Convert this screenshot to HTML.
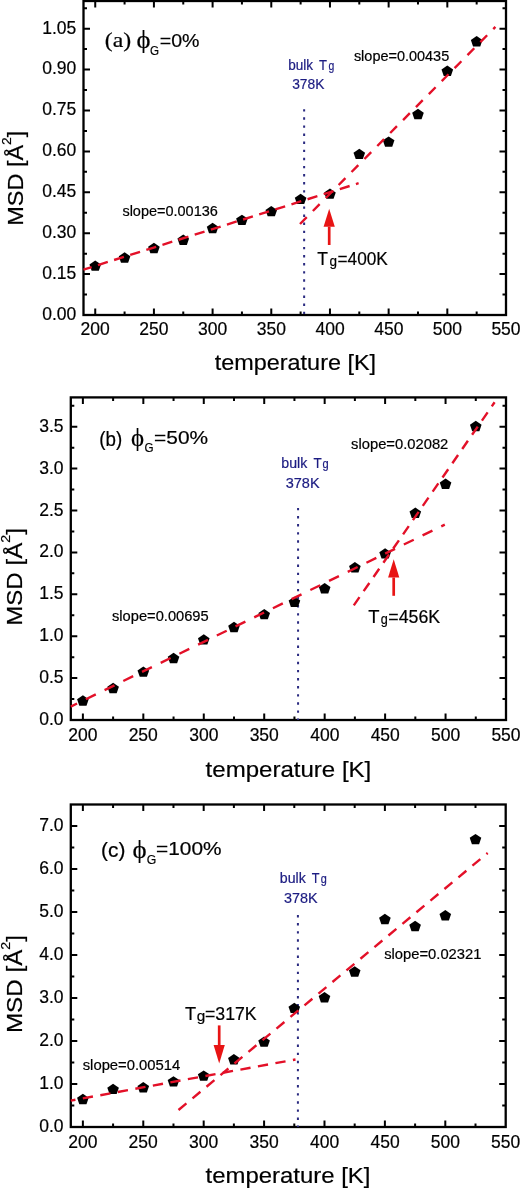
<!DOCTYPE html>
<html><head><meta charset="utf-8"><title>MSD vs temperature</title>
<style>
html,body{margin:0;padding:0;background:#fff;}
svg{display:block;}
text{font-kerning:none;}
</style></head>
<body>
<svg width="520" height="1189" viewBox="0 0 520 1189">
<rect width="520" height="1189" fill="#fff"/>
<path d="M95.24 315V308.5M95.24 1V7.5M153.92 315V308.5M153.92 1V7.5M212.6 315V308.5M212.6 1V7.5M271.28 315V308.5M271.28 1V7.5M329.96 315V308.5M329.96 1V7.5M388.64 315V308.5M388.64 1V7.5M447.32 315V308.5M447.32 1V7.5M124.58 315V311.5M124.58 1V4.5M183.26 315V311.5M183.26 1V4.5M241.94 315V311.5M241.94 1V4.5M300.62 315V311.5M300.62 1V4.5M359.3 315V311.5M359.3 1V4.5M417.98 315V311.5M417.98 1V4.5M476.66 315V311.5M476.66 1V4.5M83.5 274.1H90M506 274.1H499.5M83.5 233.19H90M506 233.19H499.5M83.5 192.29H90M506 192.29H499.5M83.5 151.38H90M506 151.38H499.5M83.5 110.48H90M506 110.48H499.5M83.5 69.57H90M506 69.57H499.5M83.5 28.67H90M506 28.67H499.5M83.5 294.55H87M506 294.55H502.5M83.5 253.64H87M506 253.64H502.5M83.5 212.74H87M506 212.74H502.5M83.5 171.83H87M506 171.83H502.5M83.5 130.93H87M506 130.93H502.5M83.5 90.02H87M506 90.02H502.5M83.5 49.12H87M506 49.12H502.5M83.5 8.21H87M506 8.21H502.5" stroke="#000" stroke-width="2" fill="none"/>
<rect x="83.5" y="1" width="422.5" height="314" fill="none" stroke="#000" stroke-width="2.3"/>
<text x="80.54" y="335.3" font-family="'Liberation Sans', Arial, sans-serif" font-size="17.5" fill="#000" stroke="#000" stroke-width="0.2" textLength="29.2" lengthAdjust="spacingAndGlyphs">200</text>
<text x="139.22" y="335.3" font-family="'Liberation Sans', Arial, sans-serif" font-size="17.5" fill="#000" stroke="#000" stroke-width="0.2" textLength="29.2" lengthAdjust="spacingAndGlyphs">250</text>
<text x="198.01" y="335.3" font-family="'Liberation Sans', Arial, sans-serif" font-size="17.5" fill="#000" stroke="#000" stroke-width="0.2" textLength="29.2" lengthAdjust="spacingAndGlyphs">300</text>
<text x="256.69" y="335.3" font-family="'Liberation Sans', Arial, sans-serif" font-size="17.5" fill="#000" stroke="#000" stroke-width="0.2" textLength="29.2" lengthAdjust="spacingAndGlyphs">350</text>
<text x="315.5" y="335.3" font-family="'Liberation Sans', Arial, sans-serif" font-size="17.5" fill="#000" stroke="#000" stroke-width="0.2" textLength="29.2" lengthAdjust="spacingAndGlyphs">400</text>
<text x="374.18" y="335.3" font-family="'Liberation Sans', Arial, sans-serif" font-size="17.5" fill="#000" stroke="#000" stroke-width="0.2" textLength="29.2" lengthAdjust="spacingAndGlyphs">450</text>
<text x="432.71" y="335.3" font-family="'Liberation Sans', Arial, sans-serif" font-size="17.5" fill="#000" stroke="#000" stroke-width="0.2" textLength="29.2" lengthAdjust="spacingAndGlyphs">500</text>
<text x="491.39" y="335.3" font-family="'Liberation Sans', Arial, sans-serif" font-size="17.5" fill="#000" stroke="#000" stroke-width="0.2" textLength="29.2" lengthAdjust="spacingAndGlyphs">550</text>
<text x="42.22" y="319.9" font-family="'Liberation Sans', Arial, sans-serif" font-size="17.5" fill="#000" stroke="#000" stroke-width="0.2" textLength="34.06" lengthAdjust="spacingAndGlyphs">0.00</text>
<text x="42.27" y="279" font-family="'Liberation Sans', Arial, sans-serif" font-size="17.5" fill="#000" stroke="#000" stroke-width="0.2" textLength="34.06" lengthAdjust="spacingAndGlyphs">0.15</text>
<text x="42.22" y="238.09" font-family="'Liberation Sans', Arial, sans-serif" font-size="17.5" fill="#000" stroke="#000" stroke-width="0.2" textLength="34.06" lengthAdjust="spacingAndGlyphs">0.30</text>
<text x="42.27" y="197.19" font-family="'Liberation Sans', Arial, sans-serif" font-size="17.5" fill="#000" stroke="#000" stroke-width="0.2" textLength="34.06" lengthAdjust="spacingAndGlyphs">0.45</text>
<text x="42.22" y="156.28" font-family="'Liberation Sans', Arial, sans-serif" font-size="17.5" fill="#000" stroke="#000" stroke-width="0.2" textLength="34.06" lengthAdjust="spacingAndGlyphs">0.60</text>
<text x="42.27" y="115.38" font-family="'Liberation Sans', Arial, sans-serif" font-size="17.5" fill="#000" stroke="#000" stroke-width="0.2" textLength="34.06" lengthAdjust="spacingAndGlyphs">0.75</text>
<text x="42.22" y="74.47" font-family="'Liberation Sans', Arial, sans-serif" font-size="17.5" fill="#000" stroke="#000" stroke-width="0.2" textLength="34.06" lengthAdjust="spacingAndGlyphs">0.90</text>
<text x="42.27" y="33.57" font-family="'Liberation Sans', Arial, sans-serif" font-size="17.5" fill="#000" stroke="#000" stroke-width="0.2" textLength="34.06" lengthAdjust="spacingAndGlyphs">1.05</text>
<line x1="304.14" y1="109.2" x2="304.14" y2="315" stroke="#2a2a80" stroke-width="2.0" stroke-dasharray="2.4 5.7"/>
<g fill="#000"><polygon points="95.24,260.46 101.04,264.44 98.82,270.87 91.65,270.87 89.43,264.44"/><polygon points="124.58,252.28 130.38,256.26 128.16,262.68 120.99,262.68 118.77,256.26"/><polygon points="153.92,242.74 159.72,246.71 157.5,253.14 150.33,253.14 148.12,246.71"/><polygon points="183.26,234.56 189.06,238.53 186.84,244.96 179.67,244.96 177.46,238.53"/><polygon points="212.6,222.83 218.4,226.8 216.18,233.23 209.01,233.23 206.8,226.8"/><polygon points="241.94,214.65 247.74,218.62 245.52,225.05 238.35,225.05 236.14,218.62"/><polygon points="271.28,205.92 277.08,209.9 274.86,216.33 267.69,216.33 265.48,209.9"/><polygon points="300.62,193.65 306.42,197.63 304.2,204.05 297.03,204.05 294.82,197.63"/><polygon points="329.96,188.47 335.76,192.44 333.54,198.87 326.37,198.87 324.16,192.44"/><polygon points="359.3,148.66 365.1,152.63 362.88,159.06 355.71,159.06 353.5,152.63"/><polygon points="388.64,136.39 394.44,140.36 392.22,146.79 385.05,146.79 382.84,140.36"/><polygon points="417.98,108.84 423.78,112.82 421.56,119.24 414.39,119.24 412.18,112.82"/><polygon points="447.32,65.48 453.12,69.46 450.9,75.89 443.73,75.89 441.52,69.46"/><polygon points="476.66,36.03 482.46,40.01 480.25,46.43 473.07,46.43 470.86,40.01"/></g>
<line x1="83.5" y1="269.6" x2="358.6" y2="183.2" stroke="#e31028" stroke-width="2.4" stroke-dasharray="10.3 6.6" stroke-dashoffset="1.75"/>
<line x1="300" y1="224" x2="495.4" y2="26.9" stroke="#e31028" stroke-width="2.4" stroke-dasharray="9.6 8.7" stroke-dashoffset="0"/>
<line x1="329.2" y1="226.7" x2="329.2" y2="245" stroke="#e81414" stroke-width="2.7"/>
<polygon points="329.2,208.8 323.6,226.7 334.8,226.7" fill="#e81414"/>
<text x="288.23" y="69.7" font-family="'Liberation Sans', Arial, sans-serif" font-size="14" fill="#1c1c82" stroke="#1c1c82" stroke-width="0.2" textLength="24.85" lengthAdjust="spacingAndGlyphs">bulk</text>
<text x="319.01" y="69.7" font-family="'Liberation Sans', Arial, sans-serif" font-size="14" fill="#1c1c82" stroke="#1c1c82" stroke-width="0.2" textLength="7.99" lengthAdjust="spacingAndGlyphs">T</text>
<text x="328.46" y="69.6" font-family="'Liberation Sans', Arial, sans-serif" font-size="12" fill="#1c1c82" stroke="#1c1c82" stroke-width="0.2" textLength="5.81" lengthAdjust="spacingAndGlyphs">g</text>
<text x="292.18" y="89.2" font-family="'Liberation Sans', Arial, sans-serif" font-size="14" fill="#1c1c82" stroke="#1c1c82" stroke-width="0.2" textLength="32.18" lengthAdjust="spacingAndGlyphs">378K</text>
<text x="122.4" y="215.9" font-family="'Liberation Sans', Arial, sans-serif" font-size="14" fill="#000" stroke="#000" stroke-width="0.2" textLength="95.44" lengthAdjust="spacingAndGlyphs">slope=0.00136</text>
<text x="353.9" y="61.2" font-family="'Liberation Sans', Arial, sans-serif" font-size="14" fill="#000" stroke="#000" stroke-width="0.2" textLength="95.31" lengthAdjust="spacingAndGlyphs">slope=0.00435</text>
<text x="317.31" y="265" font-family="'Liberation Sans', Arial, sans-serif" font-size="18" fill="#000" stroke="#000" stroke-width="0.2" textLength="10.7" lengthAdjust="spacingAndGlyphs">T</text>
<text x="329.43" y="265.7" font-family="'Liberation Sans', Arial, sans-serif" font-size="15" fill="#000" stroke="#000" stroke-width="0.2" textLength="7.54" lengthAdjust="spacingAndGlyphs">g</text>
<text x="337.56" y="265" font-family="'Liberation Sans', Arial, sans-serif" font-size="18" fill="#000" stroke="#000" stroke-width="0.2" textLength="50.23" lengthAdjust="spacingAndGlyphs">=400K</text>
<text x="104.86" y="46.7" font-family="'Liberation Serif', 'Times New Roman', serif" font-size="21" fill="#000" stroke="#000" stroke-width="0.2" textLength="26.39" lengthAdjust="spacingAndGlyphs">(a)</text>
<text x="136.4" y="47.5" font-family="'Liberation Serif', 'Times New Roman', serif" font-size="26" fill="#000" stroke="#000" stroke-width="0.2" textLength="14.02" lengthAdjust="spacingAndGlyphs">ϕ</text>
<text x="150.01" y="54.5" font-family="'Liberation Sans', Arial, sans-serif" font-size="12" fill="#000" stroke="#000" stroke-width="0.2" textLength="9.06" lengthAdjust="spacingAndGlyphs">G</text>
<text x="159.74" y="46.6" font-family="'Liberation Sans', Arial, sans-serif" font-size="19" fill="#000" stroke="#000" stroke-width="0.2" textLength="39.75" lengthAdjust="spacingAndGlyphs">=0%</text>
<text x="214.75" y="369.8" font-family="'Liberation Sans', Arial, sans-serif" font-size="22" fill="#000" stroke="#000" stroke-width="0.2" textLength="161.32" lengthAdjust="spacingAndGlyphs">temperature [K]</text>
<text transform="translate(23 223.9) rotate(-90)" x="0" y="0" font-family="'Liberation Sans', Arial, sans-serif" font-size="22" fill="#000" stroke="#000" stroke-width="0.2"><tspan x="-1.93" textLength="80.95" lengthAdjust="spacingAndGlyphs">MSD [&#197;</tspan><tspan font-size="13" dy="-12" textLength="7.72" lengthAdjust="spacingAndGlyphs">2</tspan><tspan dy="12" textLength="6.53" lengthAdjust="spacingAndGlyphs">]</tspan></text>
<path d="M82.89 720V713.5M82.89 397.4V403.9M143.33 720V713.5M143.33 397.4V403.9M203.78 720V713.5M203.78 397.4V403.9M264.22 720V713.5M264.22 397.4V403.9M324.67 720V713.5M324.67 397.4V403.9M385.11 720V713.5M385.11 397.4V403.9M445.56 720V713.5M445.56 397.4V403.9M113.11 720V716.5M113.11 397.4V400.9M173.56 720V716.5M173.56 397.4V400.9M234 720V716.5M234 397.4V400.9M294.44 720V716.5M294.44 397.4V400.9M354.89 720V716.5M354.89 397.4V400.9M415.33 720V716.5M415.33 397.4V400.9M475.78 720V716.5M475.78 397.4V400.9M70.8 678.1H77.3M506 678.1H499.5M70.8 636.2H77.3M506 636.2H499.5M70.8 594.3H77.3M506 594.3H499.5M70.8 552.4H77.3M506 552.4H499.5M70.8 510.5H77.3M506 510.5H499.5M70.8 468.6H77.3M506 468.6H499.5M70.8 426.7H77.3M506 426.7H499.5M70.8 699.05H74.3M506 699.05H502.5M70.8 657.15H74.3M506 657.15H502.5M70.8 615.25H74.3M506 615.25H502.5M70.8 573.35H74.3M506 573.35H502.5M70.8 531.45H74.3M506 531.45H502.5M70.8 489.55H74.3M506 489.55H502.5M70.8 447.65H74.3M506 447.65H502.5M70.8 405.75H74.3M506 405.75H502.5" stroke="#000" stroke-width="2" fill="none"/>
<rect x="70.8" y="397.4" width="435.2" height="322.6" fill="none" stroke="#000" stroke-width="2.3"/>
<text x="68.19" y="740.9" font-family="'Liberation Sans', Arial, sans-serif" font-size="17.5" fill="#000" stroke="#000" stroke-width="0.2" textLength="29.2" lengthAdjust="spacingAndGlyphs">200</text>
<text x="128.64" y="740.9" font-family="'Liberation Sans', Arial, sans-serif" font-size="17.5" fill="#000" stroke="#000" stroke-width="0.2" textLength="29.2" lengthAdjust="spacingAndGlyphs">250</text>
<text x="189.19" y="740.9" font-family="'Liberation Sans', Arial, sans-serif" font-size="17.5" fill="#000" stroke="#000" stroke-width="0.2" textLength="29.2" lengthAdjust="spacingAndGlyphs">300</text>
<text x="249.63" y="740.9" font-family="'Liberation Sans', Arial, sans-serif" font-size="17.5" fill="#000" stroke="#000" stroke-width="0.2" textLength="29.2" lengthAdjust="spacingAndGlyphs">350</text>
<text x="310.21" y="740.9" font-family="'Liberation Sans', Arial, sans-serif" font-size="17.5" fill="#000" stroke="#000" stroke-width="0.2" textLength="29.2" lengthAdjust="spacingAndGlyphs">400</text>
<text x="370.65" y="740.9" font-family="'Liberation Sans', Arial, sans-serif" font-size="17.5" fill="#000" stroke="#000" stroke-width="0.2" textLength="29.2" lengthAdjust="spacingAndGlyphs">450</text>
<text x="430.95" y="740.9" font-family="'Liberation Sans', Arial, sans-serif" font-size="17.5" fill="#000" stroke="#000" stroke-width="0.2" textLength="29.2" lengthAdjust="spacingAndGlyphs">500</text>
<text x="491.39" y="740.9" font-family="'Liberation Sans', Arial, sans-serif" font-size="17.5" fill="#000" stroke="#000" stroke-width="0.2" textLength="29.2" lengthAdjust="spacingAndGlyphs">550</text>
<text x="39.16" y="725" font-family="'Liberation Sans', Arial, sans-serif" font-size="17.5" fill="#000" stroke="#000" stroke-width="0.2" textLength="24.33" lengthAdjust="spacingAndGlyphs">0.0</text>
<text x="39.21" y="683.1" font-family="'Liberation Sans', Arial, sans-serif" font-size="17.5" fill="#000" stroke="#000" stroke-width="0.2" textLength="24.33" lengthAdjust="spacingAndGlyphs">0.5</text>
<text x="39.16" y="641.2" font-family="'Liberation Sans', Arial, sans-serif" font-size="17.5" fill="#000" stroke="#000" stroke-width="0.2" textLength="24.33" lengthAdjust="spacingAndGlyphs">1.0</text>
<text x="39.21" y="599.3" font-family="'Liberation Sans', Arial, sans-serif" font-size="17.5" fill="#000" stroke="#000" stroke-width="0.2" textLength="24.33" lengthAdjust="spacingAndGlyphs">1.5</text>
<text x="39.16" y="557.4" font-family="'Liberation Sans', Arial, sans-serif" font-size="17.5" fill="#000" stroke="#000" stroke-width="0.2" textLength="24.33" lengthAdjust="spacingAndGlyphs">2.0</text>
<text x="39.21" y="515.5" font-family="'Liberation Sans', Arial, sans-serif" font-size="17.5" fill="#000" stroke="#000" stroke-width="0.2" textLength="24.33" lengthAdjust="spacingAndGlyphs">2.5</text>
<text x="39.16" y="473.6" font-family="'Liberation Sans', Arial, sans-serif" font-size="17.5" fill="#000" stroke="#000" stroke-width="0.2" textLength="24.33" lengthAdjust="spacingAndGlyphs">3.0</text>
<text x="39.21" y="431.7" font-family="'Liberation Sans', Arial, sans-serif" font-size="17.5" fill="#000" stroke="#000" stroke-width="0.2" textLength="24.33" lengthAdjust="spacingAndGlyphs">3.5</text>
<line x1="298.07" y1="507.9" x2="298.07" y2="720" stroke="#2a2a80" stroke-width="2.0" stroke-dasharray="2.4 5.7"/>
<g fill="#000"><polygon points="82.89,695.28 88.69,699.25 86.47,705.68 79.3,705.68 77.09,699.25"/><polygon points="113.11,682.87 118.91,686.85 116.7,693.28 109.53,693.28 107.31,686.85"/><polygon points="143.33,666.45 149.13,670.42 146.92,676.85 139.75,676.85 137.53,670.42"/><polygon points="173.56,652.79 179.36,656.76 177.14,663.19 169.97,663.19 167.75,656.76"/><polygon points="203.78,634.19 209.58,638.16 207.36,644.59 200.19,644.59 197.98,638.16"/><polygon points="234,621.78 239.8,625.76 237.59,632.19 230.41,632.19 228.2,625.76"/><polygon points="264.22,608.96 270.02,612.94 267.81,619.36 260.64,619.36 258.42,612.94"/><polygon points="294.44,596.64 300.25,600.62 298.03,607.05 290.86,607.05 288.64,600.62"/><polygon points="324.67,582.98 330.47,586.96 328.25,593.39 321.08,593.39 318.87,586.96"/><polygon points="354.89,562.03 360.69,566.01 358.47,572.44 351.3,572.44 349.09,566.01"/><polygon points="385.11,548.21 390.91,552.18 388.7,558.61 381.53,558.61 379.31,552.18"/><polygon points="415.33,507.56 421.13,511.54 418.92,517.97 411.75,517.97 409.53,511.54"/><polygon points="445.56,478.57 451.36,482.54 449.14,488.97 441.97,488.97 439.75,482.54"/><polygon points="475.78,420.83 481.58,424.8 479.36,431.23 472.19,431.23 469.98,424.8"/></g>
<line x1="70.8" y1="706.55" x2="444.8" y2="524.6" stroke="#e31028" stroke-width="2.4" stroke-dasharray="11 9.8" stroke-dashoffset="4.03"/>
<line x1="353.8" y1="605.4" x2="494.6" y2="402.3" stroke="#e31028" stroke-width="2.4" stroke-dasharray="10 7.3" stroke-dashoffset="0"/>
<line x1="393.7" y1="577.5" x2="393.7" y2="595.8" stroke="#e81414" stroke-width="2.7"/>
<polygon points="393.7,559.2 388.1,577.5 399.3,577.5" fill="#e81414"/>
<text x="281.29" y="468.2" font-family="'Liberation Sans', Arial, sans-serif" font-size="14" fill="#1c1c82" stroke="#1c1c82" stroke-width="0.2" textLength="25.99" lengthAdjust="spacingAndGlyphs">bulk</text>
<text x="313.4" y="468.2" font-family="'Liberation Sans', Arial, sans-serif" font-size="14" fill="#1c1c82" stroke="#1c1c82" stroke-width="0.2" textLength="8.21" lengthAdjust="spacingAndGlyphs">T</text>
<text x="322.43" y="468.3" font-family="'Liberation Sans', Arial, sans-serif" font-size="12" fill="#1c1c82" stroke="#1c1c82" stroke-width="0.2" textLength="6.18" lengthAdjust="spacingAndGlyphs">g</text>
<text x="285.75" y="488.4" font-family="'Liberation Sans', Arial, sans-serif" font-size="14" fill="#1c1c82" stroke="#1c1c82" stroke-width="0.2" textLength="33.81" lengthAdjust="spacingAndGlyphs">378K</text>
<text x="111.99" y="620.8" font-family="'Liberation Sans', Arial, sans-serif" font-size="14" fill="#000" stroke="#000" stroke-width="0.2" textLength="96.72" lengthAdjust="spacingAndGlyphs">slope=0.00695</text>
<text x="351.09" y="448.5" font-family="'Liberation Sans', Arial, sans-serif" font-size="14" fill="#000" stroke="#000" stroke-width="0.2" textLength="97.25" lengthAdjust="spacingAndGlyphs">slope=0.02082</text>
<text x="368.39" y="623.1" font-family="'Liberation Sans', Arial, sans-serif" font-size="18" fill="#000" stroke="#000" stroke-width="0.2" textLength="11.24" lengthAdjust="spacingAndGlyphs">T</text>
<text x="380.67" y="624.2" font-family="'Liberation Sans', Arial, sans-serif" font-size="15" fill="#000" stroke="#000" stroke-width="0.2" textLength="7.05" lengthAdjust="spacingAndGlyphs">g</text>
<text x="388.33" y="623.1" font-family="'Liberation Sans', Arial, sans-serif" font-size="18" fill="#000" stroke="#000" stroke-width="0.2" textLength="51.87" lengthAdjust="spacingAndGlyphs">=456K</text>
<text x="99.34" y="445.6" font-family="'Liberation Sans', Arial, sans-serif" font-size="20" fill="#000" stroke="#000" stroke-width="0.2" textLength="22.93" lengthAdjust="spacingAndGlyphs">(b)</text>
<text x="130.96" y="445.5" font-family="'Liberation Serif', 'Times New Roman', serif" font-size="26" fill="#000" stroke="#000" stroke-width="0.2" textLength="13.1" lengthAdjust="spacingAndGlyphs">ϕ</text>
<text x="144.51" y="452" font-family="'Liberation Sans', Arial, sans-serif" font-size="12" fill="#000" stroke="#000" stroke-width="0.2" textLength="9.06" lengthAdjust="spacingAndGlyphs">G</text>
<text x="154.13" y="444.3" font-family="'Liberation Sans', Arial, sans-serif" font-size="19" fill="#000" stroke="#000" stroke-width="0.2" textLength="53.96" lengthAdjust="spacingAndGlyphs">=50%</text>
<text x="205.64" y="777" font-family="'Liberation Sans', Arial, sans-serif" font-size="22" fill="#000" stroke="#000" stroke-width="0.2" textLength="165.68" lengthAdjust="spacingAndGlyphs">temperature [K]</text>
<text transform="translate(21.8 623.9) rotate(-90)" x="0" y="0" font-family="'Liberation Sans', Arial, sans-serif" font-size="22" fill="#000" stroke="#000" stroke-width="0.2"><tspan x="-1.98" textLength="83.16" lengthAdjust="spacingAndGlyphs">MSD [&#197;</tspan><tspan font-size="13" dy="-12" textLength="7.93" lengthAdjust="spacingAndGlyphs">2</tspan><tspan dy="12" textLength="6.71" lengthAdjust="spacingAndGlyphs">]</tspan></text>
<path d="M82.88 1127V1120.5M82.88 804.5V811M143.28 1127V1120.5M143.28 804.5V811M203.69 1127V1120.5M203.69 804.5V811M264.09 1127V1120.5M264.09 804.5V811M324.49 1127V1120.5M324.49 804.5V811M384.89 1127V1120.5M384.89 804.5V811M445.3 1127V1120.5M445.3 804.5V811M113.08 1127V1123.5M113.08 804.5V808M173.48 1127V1123.5M173.48 804.5V808M233.89 1127V1123.5M233.89 804.5V808M294.29 1127V1123.5M294.29 804.5V808M354.69 1127V1123.5M354.69 804.5V808M415.1 1127V1123.5M415.1 804.5V808M475.5 1127V1123.5M475.5 804.5V808M70.8 1084H77.3M505.7 1084H499.2M70.8 1041H77.3M505.7 1041H499.2M70.8 998H77.3M505.7 998H499.2M70.8 955H77.3M505.7 955H499.2M70.8 912H77.3M505.7 912H499.2M70.8 869H77.3M505.7 869H499.2M70.8 826H77.3M505.7 826H499.2M70.8 1105.5H74.3M505.7 1105.5H502.2M70.8 1062.5H74.3M505.7 1062.5H502.2M70.8 1019.5H74.3M505.7 1019.5H502.2M70.8 976.5H74.3M505.7 976.5H502.2M70.8 933.5H74.3M505.7 933.5H502.2M70.8 890.5H74.3M505.7 890.5H502.2M70.8 847.5H74.3M505.7 847.5H502.2" stroke="#000" stroke-width="2" fill="none"/>
<rect x="70.8" y="804.5" width="434.9" height="322.5" fill="none" stroke="#000" stroke-width="2.3"/>
<text x="68.18" y="1147.9" font-family="'Liberation Sans', Arial, sans-serif" font-size="17.5" fill="#000" stroke="#000" stroke-width="0.2" textLength="29.2" lengthAdjust="spacingAndGlyphs">200</text>
<text x="128.59" y="1147.9" font-family="'Liberation Sans', Arial, sans-serif" font-size="17.5" fill="#000" stroke="#000" stroke-width="0.2" textLength="29.2" lengthAdjust="spacingAndGlyphs">250</text>
<text x="189.1" y="1147.9" font-family="'Liberation Sans', Arial, sans-serif" font-size="17.5" fill="#000" stroke="#000" stroke-width="0.2" textLength="29.2" lengthAdjust="spacingAndGlyphs">300</text>
<text x="249.5" y="1147.9" font-family="'Liberation Sans', Arial, sans-serif" font-size="17.5" fill="#000" stroke="#000" stroke-width="0.2" textLength="29.2" lengthAdjust="spacingAndGlyphs">350</text>
<text x="310.03" y="1147.9" font-family="'Liberation Sans', Arial, sans-serif" font-size="17.5" fill="#000" stroke="#000" stroke-width="0.2" textLength="29.2" lengthAdjust="spacingAndGlyphs">400</text>
<text x="370.44" y="1147.9" font-family="'Liberation Sans', Arial, sans-serif" font-size="17.5" fill="#000" stroke="#000" stroke-width="0.2" textLength="29.2" lengthAdjust="spacingAndGlyphs">450</text>
<text x="430.69" y="1147.9" font-family="'Liberation Sans', Arial, sans-serif" font-size="17.5" fill="#000" stroke="#000" stroke-width="0.2" textLength="29.2" lengthAdjust="spacingAndGlyphs">500</text>
<text x="491.09" y="1147.9" font-family="'Liberation Sans', Arial, sans-serif" font-size="17.5" fill="#000" stroke="#000" stroke-width="0.2" textLength="29.2" lengthAdjust="spacingAndGlyphs">550</text>
<text x="39.16" y="1132.3" font-family="'Liberation Sans', Arial, sans-serif" font-size="17.5" fill="#000" stroke="#000" stroke-width="0.2" textLength="24.33" lengthAdjust="spacingAndGlyphs">0.0</text>
<text x="39.16" y="1089.3" font-family="'Liberation Sans', Arial, sans-serif" font-size="17.5" fill="#000" stroke="#000" stroke-width="0.2" textLength="24.33" lengthAdjust="spacingAndGlyphs">1.0</text>
<text x="39.16" y="1046.3" font-family="'Liberation Sans', Arial, sans-serif" font-size="17.5" fill="#000" stroke="#000" stroke-width="0.2" textLength="24.33" lengthAdjust="spacingAndGlyphs">2.0</text>
<text x="39.16" y="1003.3" font-family="'Liberation Sans', Arial, sans-serif" font-size="17.5" fill="#000" stroke="#000" stroke-width="0.2" textLength="24.33" lengthAdjust="spacingAndGlyphs">3.0</text>
<text x="39.16" y="960.3" font-family="'Liberation Sans', Arial, sans-serif" font-size="17.5" fill="#000" stroke="#000" stroke-width="0.2" textLength="24.33" lengthAdjust="spacingAndGlyphs">4.0</text>
<text x="39.16" y="917.3" font-family="'Liberation Sans', Arial, sans-serif" font-size="17.5" fill="#000" stroke="#000" stroke-width="0.2" textLength="24.33" lengthAdjust="spacingAndGlyphs">5.0</text>
<text x="39.16" y="874.3" font-family="'Liberation Sans', Arial, sans-serif" font-size="17.5" fill="#000" stroke="#000" stroke-width="0.2" textLength="24.33" lengthAdjust="spacingAndGlyphs">6.0</text>
<text x="39.16" y="831.3" font-family="'Liberation Sans', Arial, sans-serif" font-size="17.5" fill="#000" stroke="#000" stroke-width="0.2" textLength="24.33" lengthAdjust="spacingAndGlyphs">7.0</text>
<line x1="297.91" y1="915" x2="297.91" y2="1127" stroke="#2a2a80" stroke-width="2.0" stroke-dasharray="2.4 5.7"/>
<g fill="#000"><polygon points="82.88,1093.86 88.68,1097.83 86.47,1104.26 79.3,1104.26 77.08,1097.83"/><polygon points="113.08,1083.71 118.88,1087.68 116.67,1094.11 109.5,1094.11 107.28,1087.68"/><polygon points="143.28,1081.99 149.08,1085.96 146.87,1092.39 139.7,1092.39 137.48,1085.96"/><polygon points="173.48,1076.14 179.29,1080.12 177.07,1086.54 169.9,1086.54 167.68,1080.12"/><polygon points="203.69,1070.38 209.49,1074.35 207.27,1080.78 200.1,1080.78 197.88,1074.35"/><polygon points="233.89,1054.04 239.69,1058.01 237.47,1064.44 230.3,1064.44 228.09,1058.01"/><polygon points="264.09,1036.41 269.89,1040.38 267.67,1046.81 260.5,1046.81 258.29,1040.38"/><polygon points="294.29,1002.65 300.09,1006.63 297.88,1013.06 290.7,1013.06 288.49,1006.63"/><polygon points="324.49,992.12 330.29,996.09 328.08,1002.52 320.91,1002.52 318.69,996.09"/><polygon points="354.69,966.32 360.49,970.29 358.28,976.72 351.11,976.72 348.89,970.29"/><polygon points="384.89,913.86 390.7,917.83 388.48,924.26 381.31,924.26 379.09,917.83"/><polygon points="415.1,920.74 420.9,924.71 418.68,931.14 411.51,931.14 409.29,924.71"/><polygon points="445.3,909.99 451.1,913.96 448.88,920.39 441.71,920.39 439.5,913.96"/><polygon points="475.5,833.88 481.3,837.85 479.08,844.28 471.91,844.28 469.7,837.85"/></g>
<line x1="70.8" y1="1100.6" x2="295.5" y2="1059.5" stroke="#e31028" stroke-width="2.4" stroke-dasharray="10.3 7.5" stroke-dashoffset="5.59"/>
<line x1="178.5" y1="1110" x2="487.7" y2="853" stroke="#e31028" stroke-width="2.4" stroke-dasharray="10.3 7.9" stroke-dashoffset="0"/>
<line x1="219.2" y1="1045" x2="219.2" y2="1025.4" stroke="#e81414" stroke-width="2.7"/>
<polygon points="219.2,1063.5 213.6,1045 224.8,1045" fill="#e81414"/>
<text x="279.79" y="882.6" font-family="'Liberation Sans', Arial, sans-serif" font-size="14" fill="#1c1c82" stroke="#1c1c82" stroke-width="0.2" textLength="25.99" lengthAdjust="spacingAndGlyphs">bulk</text>
<text x="311.71" y="882.6" font-family="'Liberation Sans', Arial, sans-serif" font-size="14" fill="#1c1c82" stroke="#1c1c82" stroke-width="0.2" textLength="7.78" lengthAdjust="spacingAndGlyphs">T</text>
<text x="320.74" y="882.7" font-family="'Liberation Sans', Arial, sans-serif" font-size="12" fill="#1c1c82" stroke="#1c1c82" stroke-width="0.2" textLength="6.06" lengthAdjust="spacingAndGlyphs">g</text>
<text x="283.95" y="902.8" font-family="'Liberation Sans', Arial, sans-serif" font-size="14" fill="#1c1c82" stroke="#1c1c82" stroke-width="0.2" textLength="33.61" lengthAdjust="spacingAndGlyphs">378K</text>
<text x="82.69" y="1070" font-family="'Liberation Sans', Arial, sans-serif" font-size="14" fill="#000" stroke="#000" stroke-width="0.2" textLength="97.65" lengthAdjust="spacingAndGlyphs">slope=0.00514</text>
<text x="384.19" y="958.9" font-family="'Liberation Sans', Arial, sans-serif" font-size="14" fill="#000" stroke="#000" stroke-width="0.2" textLength="97.23" lengthAdjust="spacingAndGlyphs">slope=0.02321</text>
<text x="185.09" y="1020.3" font-family="'Liberation Sans', Arial, sans-serif" font-size="18" fill="#000" stroke="#000" stroke-width="0.2" textLength="11.13" lengthAdjust="spacingAndGlyphs">T</text>
<text x="196.66" y="1021.4" font-family="'Liberation Sans', Arial, sans-serif" font-size="15" fill="#000" stroke="#000" stroke-width="0.2" textLength="8.53" lengthAdjust="spacingAndGlyphs">g</text>
<text x="204.93" y="1020.3" font-family="'Liberation Sans', Arial, sans-serif" font-size="18" fill="#000" stroke="#000" stroke-width="0.2" textLength="51.76" lengthAdjust="spacingAndGlyphs">=317K</text>
<text x="101.11" y="857.4" font-family="'Liberation Sans', Arial, sans-serif" font-size="20" fill="#000" stroke="#000" stroke-width="0.2" textLength="24.28" lengthAdjust="spacingAndGlyphs">(c)</text>
<text x="132.6" y="857.5" font-family="'Liberation Serif', 'Times New Roman', serif" font-size="26" fill="#000" stroke="#000" stroke-width="0.2" textLength="14.14" lengthAdjust="spacingAndGlyphs">ϕ</text>
<text x="146.68" y="864.3" font-family="'Liberation Sans', Arial, sans-serif" font-size="12" fill="#000" stroke="#000" stroke-width="0.2" textLength="9.53" lengthAdjust="spacingAndGlyphs">G</text>
<text x="156.08" y="855.4" font-family="'Liberation Sans', Arial, sans-serif" font-size="19" fill="#000" stroke="#000" stroke-width="0.2" textLength="65.46" lengthAdjust="spacingAndGlyphs">=100%</text>
<text x="205.64" y="1183.3" font-family="'Liberation Sans', Arial, sans-serif" font-size="22" fill="#000" stroke="#000" stroke-width="0.2" textLength="164.77" lengthAdjust="spacingAndGlyphs">temperature [K]</text>
<text transform="translate(22.3 1031.1) rotate(-90)" x="0" y="0" font-family="'Liberation Sans', Arial, sans-serif" font-size="22" fill="#000" stroke="#000" stroke-width="0.2"><tspan x="-1.98" textLength="83.34" lengthAdjust="spacingAndGlyphs">MSD [&#197;</tspan><tspan font-size="13" dy="-12" textLength="7.95" lengthAdjust="spacingAndGlyphs">2</tspan><tspan dy="12" textLength="6.72" lengthAdjust="spacingAndGlyphs">]</tspan></text>
</svg>
</body></html>
